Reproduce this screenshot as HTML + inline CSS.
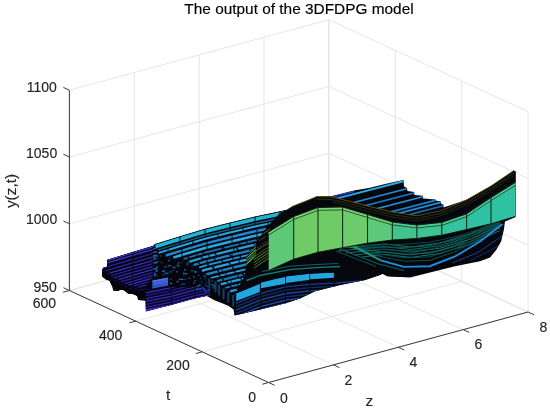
<!DOCTYPE html>
<html><head><meta charset="utf-8"><style>
html,body{margin:0;padding:0;background:#fff;width:550px;height:412px;overflow:hidden}
svg{display:block}
.g{stroke:#e2e2e2;stroke-width:0.9}
.a{stroke:#3a3a3a;stroke-width:1}
text{font-family:"Liberation Sans",Arial,sans-serif;fill:#262626;stroke:#262626;stroke-width:0.15px}
.title{font-size:15.4px;fill:#000;stroke:#000}
.tk{font-size:14px}
.lb{font-size:15.4px}
</style></head><body>
<svg width="550" height="412" viewBox="0 0 550 412">
<g><line x1="268.6" y1="382.5" x2="69.4" y2="290.5" class="g"/><line x1="333.48" y1="364.88" x2="134.28" y2="272.88" class="g"/><line x1="398.35" y1="347.25" x2="199.15" y2="255.25" class="g"/><line x1="463.23" y1="329.62" x2="264.03" y2="237.62" class="g"/><line x1="528.1" y1="312" x2="328.9" y2="220" class="g"/><line x1="268.6" y1="382.5" x2="528.1" y2="312" class="g"/><line x1="202.2" y1="351.83" x2="461.7" y2="281.33" class="g"/><line x1="135.8" y1="321.17" x2="395.3" y2="250.67" class="g"/><line x1="69.4" y1="290.5" x2="328.9" y2="220" class="g"/><line x1="69.4" y1="290.5" x2="69.4" y2="90.2" class="g"/><line x1="134.28" y1="272.88" x2="134.28" y2="72.57" class="g"/><line x1="199.15" y1="255.25" x2="199.15" y2="54.95" class="g"/><line x1="264.03" y1="237.62" x2="264.03" y2="37.32" class="g"/><line x1="328.9" y1="220" x2="328.9" y2="19.7" class="g"/><line x1="69.4" y1="290.5" x2="328.9" y2="220" class="g"/><line x1="69.4" y1="223.73" x2="328.9" y2="153.23" class="g"/><line x1="69.4" y1="156.97" x2="328.9" y2="86.47" class="g"/><line x1="69.4" y1="90.2" x2="328.9" y2="19.7" class="g"/><line x1="528.1" y1="312" x2="528.1" y2="111.7" class="g"/><line x1="461.7" y1="281.33" x2="461.7" y2="81.03" class="g"/><line x1="395.3" y1="250.67" x2="395.3" y2="50.37" class="g"/><line x1="328.9" y1="220" x2="328.9" y2="19.7" class="g"/><line x1="528.1" y1="312" x2="328.9" y2="220" class="g"/><line x1="528.1" y1="245.23" x2="328.9" y2="153.23" class="g"/><line x1="528.1" y1="178.47" x2="328.9" y2="86.47" class="g"/><line x1="528.1" y1="111.7" x2="328.9" y2="19.7" class="g"/></g><g><polygon points="102.2,269.5 104.0,267.3 107.2,266.8 107.4,259.7 153.3,245.8 155.0,244.0 180.0,236.3 205.0,228.8 230.0,222.5 255.0,216.5 280.0,211.3 286.7,209.7 292.1,206.5 310.0,199.4 316.7,196.6 332.0,196.1 354.0,190.4 370.0,187.7 385.0,184.0 403.4,180.0 404.0,186.5 406.7,187.8 407.5,191.0 414.0,192.0 414.5,195.0 422.7,195.8 423.0,198.5 435.4,199.4 435.5,200.5 440.7,201.4 441.0,203.5 443.4,204.7 443.5,207.4 460.0,202.0 466.8,199.5 491.0,186.0 513.8,170.6 515.6,171.4 515.6,217.0 505.0,221.5 503.8,230.0 501.2,241.2 496.2,250.0 490.0,257.5 480.0,261.2 455.0,266.2 430.0,272.5 410.0,277.5 387.5,276.2 382.5,273.8 380.0,275.0 365.0,280.0 340.0,285.0 315.0,291.2 300.0,298.6 285.5,303.2 260.0,309.5 234.5,315.5 233.6,309.5 228.6,306.0 224.0,304.0 219.5,302.3 215.0,300.5 211.4,298.6 206.8,295.9 195.0,298.6 171.4,305.0 145.9,311.4 145.5,300.5 138.2,300.0 137.3,296.1 132.9,294.0 128.0,293.5 124.2,290.3 120.5,289.6 118.3,291.0 113.2,290.5 112.5,286.6 111.0,283.7 109.6,280.8 106.0,279.4 103.5,277.5 102.0,276.0" fill="#06070c" /><clipPath id="c1"><polygon points="102.2,269.5 104.0,267.3 107.2,266.8 107.4,259.7 153.3,245.8 155.0,244.0 180.0,236.3 205.0,228.8 230.0,222.5 255.0,216.5 280.0,211.3 286.7,209.7 292.1,206.5 310.0,199.4 316.7,196.6 332.0,196.1 354.0,190.4 370.0,187.7 385.0,184.0 403.4,180.0 404.0,186.5 406.7,187.8 407.5,191.0 414.0,192.0 414.5,195.0 422.7,195.8 423.0,198.5 435.4,199.4 435.5,200.5 440.7,201.4 441.0,203.5 443.4,204.7 443.5,207.4 460.0,202.0 466.8,199.5 491.0,186.0 513.8,170.6 515.6,171.4 515.6,217.0 505.0,221.5 503.8,230.0 501.2,241.2 496.2,250.0 490.0,257.5 480.0,261.2 455.0,266.2 430.0,272.5 410.0,277.5 387.5,276.2 382.5,273.8 380.0,275.0 365.0,280.0 340.0,285.0 315.0,291.2 300.0,298.6 285.5,303.2 260.0,309.5 234.5,315.5 233.6,309.5 228.6,306.0 224.0,304.0 219.5,302.3 215.0,300.5 211.4,298.6 206.8,295.9 195.0,298.6 171.4,305.0 145.9,311.4 145.5,300.5 138.2,300.0 137.3,296.1 132.9,294.0 128.0,293.5 124.2,290.3 120.5,289.6 118.3,291.0 113.2,290.5 112.5,286.6 111.0,283.7 109.6,280.8 106.0,279.4 103.5,277.5 102.0,276.0"/></clipPath><g clip-path="url(#c1)"><clipPath id="c2"><polygon points="100.0,250.0 156.0,243.0 156.5,280.0 152.4,281.0 146.0,286.0 146.0,315.0 100.0,315.0"/></clipPath><g clip-path="url(#c2)"><polygon points="100.0,250.0 156.0,243.0 156.5,280.0 152.4,281.0 146.0,286.0 146.0,315.0 100.0,315.0" fill="#04040c" /><polygon points="107.4,259.7 130.0,253.0 153.3,246.3 160.0,244.4 160.0,252.4 107.4,267.7" fill="#05040f" /><polyline points="107.4,260.3 130.0,253.6 153.3,246.9 160.0,245.0" fill="none" stroke="#3c38d8" stroke-width="1.3" /><polyline points="107.4,259.7 107.4,267.7" fill="none" stroke="#000" stroke-width="0.8" /><polygon points="104.0,263.2 107.4,262.2 130.0,255.5 153.3,248.8 160.0,246.9 160.0,256.9 104.0,273.2" fill="#05040f" /><polyline points="104.0,263.8 107.4,262.8 130.0,256.1 153.3,249.4 160.0,247.5" fill="none" stroke="#3c38d8" stroke-width="1.3" /><polyline points="104.0,267.4 107.4,266.4 130.0,259.7 153.3,253.0 160.0,251.1" fill="none" stroke="#1c1870" stroke-width="0.8" /><polyline points="104.0,263.2 104.0,273.2" fill="none" stroke="#000" stroke-width="0.8" /><polygon points="102.0,267.8 107.4,266.2 130.0,259.5 153.3,252.8 160.0,250.9 160.0,261.4 102.0,278.3" fill="#05040f" /><polyline points="102.0,268.4 107.4,266.8 130.0,260.1 153.3,253.4 160.0,251.5" fill="none" stroke="#2a22a0" stroke-width="1.1" /><polyline points="102.0,272.0 107.4,270.4 130.0,263.7 153.3,257.0 160.0,255.1" fill="none" stroke="#1c1870" stroke-width="0.8" /><polyline points="102.0,267.8 102.0,278.3" fill="none" stroke="#000" stroke-width="0.8" /><polygon points="106.0,270.1 107.4,269.7 130.0,263.0 153.3,256.3 160.0,254.4 160.0,264.4 106.0,280.1" fill="#05040f" /><polyline points="106.0,270.7 107.4,270.3 130.0,263.6 153.3,256.9 160.0,255.0" fill="none" stroke="#2e28b0" stroke-width="1.1" /><polyline points="106.0,274.3 107.4,273.9 130.0,267.2 153.3,260.5 160.0,258.6" fill="none" stroke="#1c1870" stroke-width="0.8" /><polyline points="106.0,270.1 106.0,280.1" fill="none" stroke="#000" stroke-width="0.8" /><polygon points="109.6,272.5 130.0,266.5 153.3,259.8 160.0,257.9 160.0,267.9 109.6,282.5" fill="#05040f" /><polyline points="109.6,273.1 130.0,267.1 153.3,260.4 160.0,258.5" fill="none" stroke="#3530c4" stroke-width="1.1" /><polyline points="109.6,276.7 130.0,270.7 153.3,264.0 160.0,262.1" fill="none" stroke="#1c1870" stroke-width="0.8" /><polyline points="109.6,272.5 109.6,282.5" fill="none" stroke="#000" stroke-width="0.8" /><polygon points="111.0,275.1 130.0,269.5 153.3,262.8 160.0,260.9 160.0,271.9 111.0,286.1" fill="#05040f" /><polyline points="111.0,275.7 130.0,270.1 153.3,263.4 160.0,261.5" fill="none" stroke="#2a22a0" stroke-width="1.1" /><polyline points="111.0,279.3 130.0,273.7 153.3,267.0 160.0,265.1" fill="none" stroke="#1c1870" stroke-width="0.8" /><polyline points="111.0,275.1 111.0,286.1" fill="none" stroke="#000" stroke-width="0.8" /><polygon points="113.2,277.5 130.0,272.5 153.3,265.8 160.0,263.9 160.0,274.4 113.2,288.0" fill="#05040f" /><polyline points="113.2,278.1 130.0,273.1 153.3,266.4 160.0,264.5" fill="none" stroke="#2e28b0" stroke-width="1.1" /><polyline points="113.2,281.7 130.0,276.7 153.3,270.0 160.0,268.1" fill="none" stroke="#1c1870" stroke-width="0.8" /><polyline points="113.2,277.5 113.2,288.0" fill="none" stroke="#000" stroke-width="0.8" /><polygon points="118.3,279.0 130.0,275.5 153.3,268.8 160.0,266.9 160.0,275.9 118.3,288.0" fill="#05040f" /><polyline points="118.3,279.6 130.0,276.1 153.3,269.4 160.0,267.5" fill="none" stroke="#3530c4" stroke-width="1.1" /><polyline points="118.3,283.2 130.0,279.7 153.3,273.0 160.0,271.1" fill="none" stroke="#1c1870" stroke-width="0.8" /><polyline points="118.3,279.0 118.3,288.0" fill="none" stroke="#000" stroke-width="0.8" /><polygon points="120.5,281.3 130.0,278.5 153.3,271.8 160.0,269.9 160.0,278.9 120.5,290.3" fill="#05040f" /><polyline points="120.5,281.9 130.0,279.1 153.3,272.4 160.0,270.5" fill="none" stroke="#2a22a0" stroke-width="1.1" /><polyline points="120.5,285.5 130.0,282.7 153.3,276.0 160.0,274.1" fill="none" stroke="#1c1870" stroke-width="0.8" /><polyline points="120.5,281.3 120.5,290.3" fill="none" stroke="#000" stroke-width="0.8" /><polygon points="124.2,283.2 130.0,281.5 153.3,274.8 160.0,272.9 160.0,281.9 124.2,292.2" fill="#05040f" /><polyline points="124.2,283.8 130.0,282.1 153.3,275.4 160.0,273.5" fill="none" stroke="#2e28b0" stroke-width="1.1" /><polyline points="124.2,287.4 130.0,285.7 153.3,279.0 160.0,277.1" fill="none" stroke="#1c1870" stroke-width="0.8" /><polyline points="124.2,283.2 124.2,292.2" fill="none" stroke="#000" stroke-width="0.8" /><polygon points="128.0,284.6 130.0,284.0 153.3,277.3 160.0,275.4 160.0,284.9 128.0,294.1" fill="#05040f" /><polyline points="128.0,285.2 130.0,284.6 153.3,277.9 160.0,276.0" fill="none" stroke="#3530c4" stroke-width="1.1" /><polyline points="128.0,288.8 130.0,288.2 153.3,281.5 160.0,279.6" fill="none" stroke="#1c1870" stroke-width="0.8" /><polyline points="128.0,284.6 128.0,294.1" fill="none" stroke="#000" stroke-width="0.8" /><polygon points="132.9,285.7 153.3,279.8 160.0,277.9 160.0,287.9 132.9,295.7" fill="#05040f" /><polyline points="132.9,286.3 153.3,280.4 160.0,278.5" fill="none" stroke="#2a22a0" stroke-width="1.1" /><polyline points="132.9,289.9 153.3,284.0 160.0,282.1" fill="none" stroke="#1c1870" stroke-width="0.8" /><polyline points="132.9,285.7 132.9,295.7" fill="none" stroke="#000" stroke-width="0.8" /><polygon points="137.3,286.9 153.3,282.3 160.0,280.4 160.0,290.4 137.3,296.9" fill="#05040f" /><polyline points="137.3,287.5 153.3,282.9 160.0,281.0" fill="none" stroke="#2e28b0" stroke-width="1.1" /><polyline points="137.3,291.1 153.3,286.5 160.0,284.6" fill="none" stroke="#1c1870" stroke-width="0.8" /><polyline points="137.3,286.9 137.3,296.9" fill="none" stroke="#000" stroke-width="0.8" /><polyline points="132.8,252.0 132.8,300.0" fill="none" stroke="#06070c" stroke-width="0.8" /></g></g><clipPath id="c3"><polygon points="102.2,269.5 104.0,267.3 107.2,266.8 107.4,259.7 153.3,245.8 155.0,244.0 180.0,236.3 205.0,228.8 230.0,222.5 255.0,216.5 280.0,211.3 286.7,209.7 292.1,206.5 310.0,199.4 316.7,196.6 332.0,196.1 354.0,190.4 370.0,187.7 385.0,184.0 403.4,180.0 404.0,186.5 406.7,187.8 407.5,191.0 414.0,192.0 414.5,195.0 422.7,195.8 423.0,198.5 435.4,199.4 435.5,200.5 440.7,201.4 441.0,203.5 443.4,204.7 443.5,207.4 460.0,202.0 466.8,199.5 491.0,186.0 513.8,170.6 515.6,171.4 515.6,217.0 505.0,221.5 503.8,230.0 501.2,241.2 496.2,250.0 490.0,257.5 480.0,261.2 455.0,266.2 430.0,272.5 410.0,277.5 387.5,276.2 382.5,273.8 380.0,275.0 365.0,280.0 340.0,285.0 315.0,291.2 300.0,298.6 285.5,303.2 260.0,309.5 234.5,315.5 233.6,309.5 228.6,306.0 224.0,304.0 219.5,302.3 215.0,300.5 211.4,298.6 206.8,295.9 195.0,298.6 171.4,305.0 145.9,311.4 145.5,300.5 138.2,300.0 137.3,296.1 132.9,294.0 128.0,293.5 124.2,290.3 120.5,289.6 118.3,291.0 113.2,290.5 112.5,286.6 111.0,283.7 109.6,280.8 106.0,279.4 103.5,277.5 102.0,276.0"/></clipPath><g clip-path="url(#c3)"><clipPath id="c4"><polygon points="146.0,311.4 146.0,285.6 152.4,277.0 152.4,247.0 158.0,246.0 170.0,250.0 190.0,260.0 201.0,269.0 207.5,286.0 212.0,295.0 207.5,296.0 195.0,298.6 171.4,305.0"/></clipPath><g clip-path="url(#c4)"><polygon points="146.0,311.4 146.0,285.6 152.4,277.0 152.4,247.0 158.0,246.0 170.0,250.0 190.0,260.0 201.0,269.0 207.5,286.0 212.0,295.0 207.5,296.0 195.0,298.6 171.4,305.0" fill="#05060c" /><clipPath id="c5"><polygon points="145.9,288.0 195.0,286.5 212.0,289.0 212.0,295.0 207.5,296.0 195.0,298.6 171.4,305.0 145.9,311.7"/></clipPath><g clip-path="url(#c5)"><polygon points="145.9,288.0 195.0,286.5 212.0,289.0 212.0,295.0 207.5,296.0 195.0,298.6 171.4,305.0 145.9,311.7" fill="#07061c" /><polyline points="140.0,294.0 171.4,287.6 195.0,281.2 214.0,277.0" fill="none" stroke="#3a28c0" stroke-width="1.2" /><polyline points="140.0,296.9 171.4,290.5 195.0,284.1 214.0,279.9" fill="none" stroke="#261c8c" stroke-width="1.2" /><polyline points="140.0,299.8 171.4,293.4 195.0,287.0 214.0,282.8" fill="none" stroke="#3224ac" stroke-width="1.2" /><polyline points="140.0,302.7 171.4,296.3 195.0,289.9 214.0,285.7" fill="none" stroke="#3a28c0" stroke-width="1.2" /><polyline points="140.0,305.6 171.4,299.2 195.0,292.8 214.0,288.6" fill="none" stroke="#261c8c" stroke-width="1.2" /><polyline points="140.0,308.5 171.4,302.1 195.0,295.7 214.0,291.5" fill="none" stroke="#3224ac" stroke-width="1.2" /><polyline points="140.0,311.4 171.4,305.0 195.0,298.6 214.0,294.4" fill="none" stroke="#4a32e0" stroke-width="1.6" /><polyline points="140.0,314.3 171.4,307.9 195.0,301.5 214.0,297.3" fill="none" stroke="#3a28c8" stroke-width="1.6" /><polyline points="140.0,317.2 171.4,310.8 195.0,304.4 214.0,300.2" fill="none" stroke="#4a32e0" stroke-width="1.6" /><polyline points="140.0,320.1 171.4,313.7 195.0,307.3 214.0,303.1" fill="none" stroke="#3a28c8" stroke-width="1.6" /></g><polygon points="152.4,280.5 168.1,277.5 168.1,285.5 152.4,288.5" fill="#3d5cd8" /><polyline points="152.4,281.3 168.1,278.3" fill="none" stroke="#5a80f4" stroke-width="1.0" /><polyline points="152.4,286.7 168.1,283.7" fill="none" stroke="#2c44b8" stroke-width="0.8" /><polyline points="152.8,249.0 157.2,248.0" fill="none" stroke="#1a70b8" stroke-width="1.1" /><polyline points="152.8,252.5 157.2,251.5" fill="none" stroke="#1f80c8" stroke-width="1.1" /><polyline points="152.8,256.0 157.2,255.0" fill="none" stroke="#1f80c8" stroke-width="1.1" /><polyline points="152.8,259.5 157.2,258.5" fill="none" stroke="#1a70b8" stroke-width="1.1" /><polyline points="152.8,263.0 157.2,262.0" fill="none" stroke="#1a5aa0" stroke-width="1.1" /><polygon points="153.0,268.5 155.2,268.1 155.2,269.6 153.0,270.0" fill="#2a4ab8" /><polygon points="155.5,270.5 157.7,270.1 157.7,271.6 155.5,272.0" fill="#1a70c0" /><polygon points="153.5,272.8 155.7,272.4 155.7,273.9 153.5,274.3" fill="#2a4ab8" /><polygon points="156.0,266.5 158.2,266.1 158.2,267.6 156.0,268.0" fill="#2a4ab8" /><polygon points="154.0,275.0 156.2,274.6 156.2,276.1 154.0,276.5" fill="#2a58c8" /><polyline points="171.4,286.0 171.4,306.0" fill="none" stroke="#06070c" stroke-width="0.8" /><polyline points="195.0,280.0 195.0,299.0" fill="none" stroke="#06070c" stroke-width="0.8" /></g></g><clipPath id="c6"><polygon points="102.2,269.5 104.0,267.3 107.2,266.8 107.4,259.7 153.3,245.8 155.0,244.0 180.0,236.3 205.0,228.8 230.0,222.5 255.0,216.5 280.0,211.3 286.7,209.7 292.1,206.5 310.0,199.4 316.7,196.6 332.0,196.1 354.0,190.4 370.0,187.7 385.0,184.0 403.4,180.0 404.0,186.5 406.7,187.8 407.5,191.0 414.0,192.0 414.5,195.0 422.7,195.8 423.0,198.5 435.4,199.4 435.5,200.5 440.7,201.4 441.0,203.5 443.4,204.7 443.5,207.4 460.0,202.0 466.8,199.5 491.0,186.0 513.8,170.6 515.6,171.4 515.6,217.0 505.0,221.5 503.8,230.0 501.2,241.2 496.2,250.0 490.0,257.5 480.0,261.2 455.0,266.2 430.0,272.5 410.0,277.5 387.5,276.2 382.5,273.8 380.0,275.0 365.0,280.0 340.0,285.0 315.0,291.2 300.0,298.6 285.5,303.2 260.0,309.5 234.5,315.5 233.6,309.5 228.6,306.0 224.0,304.0 219.5,302.3 215.0,300.5 211.4,298.6 206.8,295.9 195.0,298.6 171.4,305.0 145.9,311.4 145.5,300.5 138.2,300.0 137.3,296.1 132.9,294.0 128.0,293.5 124.2,290.3 120.5,289.6 118.3,291.0 113.2,290.5 112.5,286.6 111.0,283.7 109.6,280.8 106.0,279.4 103.5,277.5 102.0,276.0"/></clipPath><g clip-path="url(#c6)"><clipPath id="c7"><polygon points="155.0,244.0 180.0,236.3 205.0,228.8 230.0,222.5 255.0,216.5 280.0,211.3 287.0,209.7 280.0,213.0 268.0,226.0 259.8,237.0 253.0,249.0 247.0,256.0 246.0,266.0 244.5,276.0 236.0,293.0 234.0,309.0 228.0,305.0 222.0,302.0 216.0,299.0 211.0,297.0 208.0,287.0 201.0,269.0 190.0,266.0 170.0,262.0 158.0,258.0"/></clipPath><g clip-path="url(#c7)"><polygon points="155.0,244.0 180.0,236.3 205.0,228.8 230.0,222.5 255.0,216.5 280.0,211.3 287.0,209.7 280.0,213.0 268.0,226.0 259.8,237.0 253.0,249.0 247.0,256.0 246.0,266.0 244.5,276.0 236.0,293.0 234.0,309.0 228.0,305.0 222.0,302.0 216.0,299.0 211.0,297.0 208.0,287.0 201.0,269.0 190.0,266.0 170.0,262.0 158.0,258.0" fill="#06070c" /><polyline points="150.0,248.1 155.0,246.6 180.0,238.9 205.0,231.4 230.0,225.1 255.0,219.1 280.0,213.9 300.0,209.6" fill="none" stroke="#20b2d6" stroke-width="4.0" /><polyline points="150.0,245.9 155.0,244.4 180.0,236.7 205.0,229.2 230.0,222.9 255.0,216.9 280.0,211.7 300.0,207.4" fill="none" stroke="#0a1a22" stroke-width="0.8" /><polyline points="158.0,250.0 180.0,243.2 205.0,235.7 230.0,229.4 255.0,223.4 280.0,218.2 300.0,213.9" fill="none" stroke="#126a96" stroke-width="1.2" /><polyline points="158.7,252.9 180.0,246.3 205.0,238.8 230.0,232.5 255.0,226.5 280.0,221.3 300.0,217.0" fill="none" stroke="#2aa2e2" stroke-width="2.0" /><polyline points="168.0,248.5 168.0,251.5" fill="none" stroke="#06070c" stroke-width="0.9" /><polyline points="193.0,240.9 193.0,243.9" fill="none" stroke="#06070c" stroke-width="0.9" /><polyline points="218.0,234.0 218.0,237.0" fill="none" stroke="#06070c" stroke-width="0.9" /><polyline points="243.0,227.9 243.0,230.9" fill="none" stroke="#06070c" stroke-width="0.9" /><polyline points="268.0,222.3 268.0,225.3" fill="none" stroke="#06070c" stroke-width="0.9" /><polyline points="293.0,217.0 293.0,220.0" fill="none" stroke="#06070c" stroke-width="0.9" /><polyline points="165.8,255.5 180.0,251.1 205.0,243.6 230.0,237.3 255.0,231.3 280.0,226.1 300.0,221.8" fill="none" stroke="#1e88cc" stroke-width="2.5" /><polyline points="182.0,249.0 182.0,252.0" fill="none" stroke="#06070c" stroke-width="0.9" /><polyline points="207.0,241.6 207.0,244.6" fill="none" stroke="#06070c" stroke-width="0.9" /><polyline points="232.0,235.3 232.0,238.3" fill="none" stroke="#06070c" stroke-width="0.9" /><polyline points="257.0,229.4 257.0,232.4" fill="none" stroke="#06070c" stroke-width="0.9" /><polyline points="282.0,224.2 282.0,227.2" fill="none" stroke="#06070c" stroke-width="0.9" /><polyline points="173.3,257.6 180.0,255.5 205.0,248.0 230.0,241.7 255.0,235.7 280.0,230.5 300.0,226.2" fill="none" stroke="#28a8e4" stroke-width="2.5" /><polyline points="182.0,253.4 182.0,256.4" fill="none" stroke="#06070c" stroke-width="0.9" /><polyline points="207.0,246.0 207.0,249.0" fill="none" stroke="#06070c" stroke-width="0.9" /><polyline points="232.0,239.7 232.0,242.7" fill="none" stroke="#06070c" stroke-width="0.9" /><polyline points="257.0,233.8 257.0,236.8" fill="none" stroke="#06070c" stroke-width="0.9" /><polyline points="282.0,228.6 282.0,231.6" fill="none" stroke="#06070c" stroke-width="0.9" /><polyline points="183.6,259.0 205.0,252.6 230.0,246.3 255.0,240.3 280.0,235.1 300.0,230.8" fill="none" stroke="#1a74b4" stroke-width="1.8" /><polyline points="187.9,256.3 189.8,259.1" fill="none" stroke="#06070c" stroke-width="1.3" /><polyline points="202.5,252.0 204.7,254.8" fill="none" stroke="#06070c" stroke-width="1.3" /><polyline points="222.3,246.8 224.9,249.6" fill="none" stroke="#06070c" stroke-width="1.3" /><polyline points="238.5,242.9 241.1,245.7" fill="none" stroke="#06070c" stroke-width="1.3" /><polyline points="256.2,238.6 258.2,241.4" fill="none" stroke="#06070c" stroke-width="1.3" /><polyline points="272.3,235.3 273.6,238.1" fill="none" stroke="#06070c" stroke-width="1.3" /><polyline points="287.7,232.0 290.5,234.8" fill="none" stroke="#06070c" stroke-width="1.3" /><polyline points="197.0,253.5 197.0,256.5" fill="none" stroke="#06070c" stroke-width="0.9" /><polyline points="222.0,246.8 222.0,249.8" fill="none" stroke="#06070c" stroke-width="0.9" /><polyline points="247.0,240.7 247.0,243.7" fill="none" stroke="#06070c" stroke-width="0.9" /><polyline points="272.0,235.3 272.0,238.3" fill="none" stroke="#06070c" stroke-width="0.9" /><polyline points="297.0,229.9 297.0,232.9" fill="none" stroke="#06070c" stroke-width="0.9" /><polyline points="189.0,261.8 205.0,257.0 230.0,250.7 255.0,244.7 280.0,239.5 300.0,235.2" fill="none" stroke="#24a0e0" stroke-width="2.3" /><polyline points="200.9,256.8 203.2,259.6" fill="none" stroke="#06070c" stroke-width="1.3" /><polyline points="214.6,253.2 217.2,256.0" fill="none" stroke="#06070c" stroke-width="1.3" /><polyline points="236.2,247.8 239.0,250.6" fill="none" stroke="#06070c" stroke-width="1.3" /><polyline points="253.9,243.6 256.3,246.4" fill="none" stroke="#06070c" stroke-width="1.3" /><polyline points="268.0,240.6 270.6,243.4" fill="none" stroke="#06070c" stroke-width="1.3" /><polyline points="285.7,236.9 287.2,239.7" fill="none" stroke="#06070c" stroke-width="1.3" /><polygon points="186.6,262.3 189.0,261.5 189.0,272.8 186.6,273.3" fill="#0f3e66" /><polyline points="189.0,261.3 189.0,275.8" fill="none" stroke="#06070c" stroke-width="0.9" /><polyline points="209.0,254.5 209.0,257.5" fill="none" stroke="#06070c" stroke-width="0.9" /><polyline points="234.0,248.2 234.0,251.2" fill="none" stroke="#06070c" stroke-width="0.9" /><polyline points="259.0,242.4 259.0,245.4" fill="none" stroke="#06070c" stroke-width="0.9" /><polyline points="284.0,237.1 284.0,240.1" fill="none" stroke="#06070c" stroke-width="0.9" /><polyline points="193.4,265.2 205.0,261.7 230.0,255.4 255.0,249.4 280.0,244.2 300.0,239.9" fill="none" stroke="#1c80c4" stroke-width="2.3" /><polyline points="198.1,262.4 200.7,265.2" fill="none" stroke="#06070c" stroke-width="1.3" /><polyline points="214.2,258.0 215.4,260.8" fill="none" stroke="#06070c" stroke-width="1.3" /><polyline points="229.2,254.3 231.7,257.1" fill="none" stroke="#06070c" stroke-width="1.3" /><polyline points="249.9,249.3 250.8,252.1" fill="none" stroke="#06070c" stroke-width="1.3" /><polyline points="268.0,245.3 268.9,248.1" fill="none" stroke="#06070c" stroke-width="1.3" /><polyline points="287.2,241.3 288.7,244.1" fill="none" stroke="#06070c" stroke-width="1.3" /><polygon points="191.0,265.7 193.4,264.9 193.4,276.2 191.0,276.7" fill="#0f3e66" /><polyline points="193.4,264.7 193.4,279.2" fill="none" stroke="#06070c" stroke-width="0.9" /><polyline points="207.0,259.7 207.0,262.7" fill="none" stroke="#06070c" stroke-width="0.9" /><polyline points="232.0,253.5 232.0,256.5" fill="none" stroke="#06070c" stroke-width="0.9" /><polyline points="257.0,247.5 257.0,250.5" fill="none" stroke="#06070c" stroke-width="0.9" /><polyline points="282.0,242.3 282.0,245.3" fill="none" stroke="#06070c" stroke-width="0.9" /><polyline points="198.8,267.6 205.0,265.7 230.0,259.4 255.0,253.4 280.0,248.2 300.0,243.9" fill="none" stroke="#2296d8" stroke-width="1.8" /><polyline points="206.8,263.9 209.8,266.7" fill="none" stroke="#06070c" stroke-width="1.3" /><polyline points="221.9,260.1 222.9,262.9" fill="none" stroke="#06070c" stroke-width="1.3" /><polyline points="239.9,255.6 240.8,258.4" fill="none" stroke="#06070c" stroke-width="1.3" /><polyline points="253.9,252.3 255.6,255.1" fill="none" stroke="#06070c" stroke-width="1.3" /><polyline points="272.0,248.5 273.1,251.3" fill="none" stroke="#06070c" stroke-width="1.3" /><polyline points="284.4,245.9 287.1,248.7" fill="none" stroke="#06070c" stroke-width="1.3" /><polygon points="196.4,268.1 198.8,267.3 198.8,278.6 196.4,279.1" fill="#0f3e66" /><polyline points="198.8,267.1 198.8,281.6" fill="none" stroke="#06070c" stroke-width="0.9" /><polyline points="208.0,263.5 208.0,266.5" fill="none" stroke="#06070c" stroke-width="0.9" /><polyline points="233.0,257.2 233.0,260.2" fill="none" stroke="#06070c" stroke-width="0.9" /><polyline points="258.0,251.3 258.0,254.3" fill="none" stroke="#06070c" stroke-width="0.9" /><polyline points="283.0,246.1 283.0,249.1" fill="none" stroke="#06070c" stroke-width="0.9" /><polyline points="201.2,271.1 205.0,269.9 230.0,263.6 255.0,257.6 280.0,252.4 300.0,248.1" fill="none" stroke="#2aa2e2" stroke-width="2.3" /><polyline points="212.3,266.7 214.0,269.5" fill="none" stroke="#06070c" stroke-width="1.3" /><polyline points="228.9,262.5 230.9,265.3" fill="none" stroke="#06070c" stroke-width="1.3" /><polyline points="247.4,258.1 249.5,260.9" fill="none" stroke="#06070c" stroke-width="1.3" /><polyline points="265.0,254.2 267.1,257.0" fill="none" stroke="#06070c" stroke-width="1.3" /><polyline points="286.4,249.7 288.3,252.5" fill="none" stroke="#06070c" stroke-width="1.3" /><polygon points="198.8,271.6 201.2,270.8 201.2,282.1 198.8,282.6" fill="#0f3e66" /><polyline points="201.2,270.6 201.2,285.1" fill="none" stroke="#06070c" stroke-width="0.9" /><polyline points="214.0,266.2 214.0,269.2" fill="none" stroke="#06070c" stroke-width="0.9" /><polyline points="239.0,260.0 239.0,263.0" fill="none" stroke="#06070c" stroke-width="0.9" /><polyline points="264.0,254.3 264.0,257.3" fill="none" stroke="#06070c" stroke-width="0.9" /><polyline points="289.0,249.0 289.0,252.0" fill="none" stroke="#06070c" stroke-width="0.9" /><polyline points="206.1,274.3 230.0,268.3 255.0,262.3 280.0,257.1 300.0,252.8" fill="none" stroke="#1e88cc" stroke-width="2.3" /><polyline points="217.6,270.0 219.4,272.8" fill="none" stroke="#06070c" stroke-width="1.3" /><polyline points="232.2,266.4 233.7,269.2" fill="none" stroke="#06070c" stroke-width="1.3" /><polyline points="247.6,262.7 250.1,265.5" fill="none" stroke="#06070c" stroke-width="1.3" /><polyline points="269.5,257.9 270.9,260.7" fill="none" stroke="#06070c" stroke-width="1.3" /><polyline points="285.2,254.6 287.3,257.4" fill="none" stroke="#06070c" stroke-width="1.3" /><polygon points="203.7,274.8 206.1,274.0 206.1,285.3 203.7,285.8" fill="#0f3e66" /><polyline points="206.1,273.8 206.1,288.3" fill="none" stroke="#06070c" stroke-width="0.9" /><polyline points="222.0,268.8 222.0,271.8" fill="none" stroke="#06070c" stroke-width="0.9" /><polyline points="247.0,262.7 247.0,265.7" fill="none" stroke="#06070c" stroke-width="0.9" /><polyline points="272.0,257.3 272.0,260.3" fill="none" stroke="#06070c" stroke-width="0.9" /><polyline points="297.0,251.9 297.0,254.9" fill="none" stroke="#06070c" stroke-width="0.9" /><polyline points="210.7,278.0 230.0,273.2 255.0,267.2 280.0,262.0 300.0,257.7" fill="none" stroke="#28a8e4" stroke-width="1.8" /><polyline points="218.5,274.7 220.8,277.5" fill="none" stroke="#06070c" stroke-width="1.3" /><polyline points="234.0,270.8 236.3,273.6" fill="none" stroke="#06070c" stroke-width="1.3" /><polyline points="253.4,266.1 254.2,268.9" fill="none" stroke="#06070c" stroke-width="1.3" /><polyline points="266.0,263.5 268.3,266.3" fill="none" stroke="#06070c" stroke-width="1.3" /><polyline points="287.6,258.9 289.0,261.7" fill="none" stroke="#06070c" stroke-width="1.3" /><polygon points="208.3,278.5 210.7,277.7 210.7,289.0 208.3,289.5" fill="#0f3e66" /><polyline points="210.7,277.5 210.7,292.0" fill="none" stroke="#06070c" stroke-width="0.9" /><polyline points="226.0,272.7 226.0,275.7" fill="none" stroke="#06070c" stroke-width="0.9" /><polyline points="251.0,266.6 251.0,269.6" fill="none" stroke="#06070c" stroke-width="0.9" /><polyline points="276.0,261.3 276.0,264.3" fill="none" stroke="#06070c" stroke-width="0.9" /><polyline points="217.0,281.1 230.0,277.8 255.0,271.8 280.0,266.6 300.0,262.3" fill="none" stroke="#1a74b4" stroke-width="2.3" /><polyline points="222.4,278.3 223.6,281.1" fill="none" stroke="#06070c" stroke-width="1.3" /><polyline points="242.0,273.5 244.6,276.3" fill="none" stroke="#06070c" stroke-width="1.3" /><polyline points="256.6,270.1 259.1,272.9" fill="none" stroke="#06070c" stroke-width="1.3" /><polyline points="269.6,267.4 272.2,270.2" fill="none" stroke="#06070c" stroke-width="1.3" /><polyline points="291.4,262.8 293.7,265.6" fill="none" stroke="#06070c" stroke-width="1.3" /><polygon points="214.6,281.6 217.0,280.8 217.0,292.1 214.6,292.6" fill="#0f3e66" /><polyline points="217.0,280.6 217.0,295.1" fill="none" stroke="#06070c" stroke-width="0.9" /><polyline points="238.0,274.4 238.0,277.4" fill="none" stroke="#06070c" stroke-width="0.9" /><polyline points="263.0,268.6 263.0,271.6" fill="none" stroke="#06070c" stroke-width="0.9" /><polyline points="288.0,263.4 288.0,266.4" fill="none" stroke="#06070c" stroke-width="0.9" /><polyline points="220.6,284.3 230.0,281.9 255.0,275.9 280.0,270.7 300.0,266.4" fill="none" stroke="#24a0e0" stroke-width="2.3" /><polyline points="226.4,281.4 228.9,284.2" fill="none" stroke="#06070c" stroke-width="1.3" /><polyline points="240.8,277.9 242.0,280.7" fill="none" stroke="#06070c" stroke-width="1.3" /><polyline points="257.1,274.1 259.4,276.9" fill="none" stroke="#06070c" stroke-width="1.3" /><polyline points="270.1,271.4 271.6,274.2" fill="none" stroke="#06070c" stroke-width="1.3" /><polyline points="285.5,268.1 288.1,270.9" fill="none" stroke="#06070c" stroke-width="1.3" /><polygon points="218.2,284.8 220.6,284.0 220.6,295.3 218.2,295.8" fill="#0f3e66" /><polyline points="220.6,283.8 220.6,298.3" fill="none" stroke="#06070c" stroke-width="0.9" /><polyline points="231.0,280.2 231.0,283.2" fill="none" stroke="#06070c" stroke-width="0.9" /><polyline points="256.0,274.2 256.0,277.2" fill="none" stroke="#06070c" stroke-width="0.9" /><polyline points="281.0,269.0 281.0,272.0" fill="none" stroke="#06070c" stroke-width="0.9" /><polyline points="225.0,288.0 230.0,286.7 255.0,280.7 280.0,275.5 300.0,271.2" fill="none" stroke="#1c80c4" stroke-width="1.8" /><polyline points="229.6,285.4 232.1,288.2" fill="none" stroke="#06070c" stroke-width="1.3" /><polyline points="243.8,282.0 245.9,284.8" fill="none" stroke="#06070c" stroke-width="1.3" /><polyline points="258.5,278.6 261.0,281.4" fill="none" stroke="#06070c" stroke-width="1.3" /><polyline points="270.9,276.0 273.8,278.8" fill="none" stroke="#06070c" stroke-width="1.3" /><polyline points="286.0,272.8 288.6,275.6" fill="none" stroke="#06070c" stroke-width="1.3" /><polygon points="222.6,288.5 225.0,287.7 225.0,299.0 222.6,299.5" fill="#0f3e66" /><polyline points="225.0,287.5 225.0,302.0" fill="none" stroke="#06070c" stroke-width="0.9" /><polyline points="238.0,283.3 238.0,286.3" fill="none" stroke="#06070c" stroke-width="0.9" /><polyline points="263.0,277.6 263.0,280.6" fill="none" stroke="#06070c" stroke-width="0.9" /><polyline points="288.0,272.3 288.0,275.3" fill="none" stroke="#06070c" stroke-width="0.9" /><polyline points="229.7,291.4 230.0,291.4 255.0,285.4 280.0,280.2 300.0,275.9" fill="none" stroke="#2296d8" stroke-width="2.3" /><polyline points="236.5,288.4 239.1,291.2" fill="none" stroke="#06070c" stroke-width="1.3" /><polyline points="249.3,285.3 251.5,288.1" fill="none" stroke="#06070c" stroke-width="1.3" /><polyline points="267.2,281.4 268.9,284.2" fill="none" stroke="#06070c" stroke-width="1.3" /><polyline points="284.4,277.8 287.1,280.6" fill="none" stroke="#06070c" stroke-width="1.3" /><polygon points="227.3,291.9 229.7,291.1 229.7,302.4 227.3,302.9" fill="#0f3e66" /><polyline points="229.7,290.9 229.7,305.4" fill="none" stroke="#06070c" stroke-width="0.9" /><polyline points="248.0,285.6 248.0,288.6" fill="none" stroke="#06070c" stroke-width="0.9" /><polyline points="273.0,280.1 273.0,283.1" fill="none" stroke="#06070c" stroke-width="0.9" /><polyline points="298.0,274.8 298.0,277.8" fill="none" stroke="#06070c" stroke-width="0.9" /><polyline points="234.6,294.9 255.0,290.0 280.0,284.8 300.0,280.5" fill="none" stroke="#2aa2e2" stroke-width="2.3" /><polyline points="241.0,292.0 243.0,294.8" fill="none" stroke="#06070c" stroke-width="1.3" /><polyline points="253.3,289.0 255.0,291.8" fill="none" stroke="#06070c" stroke-width="1.3" /><polyline points="267.3,286.0 269.2,288.8" fill="none" stroke="#06070c" stroke-width="1.3" /><polyline points="287.6,281.7 289.8,284.5" fill="none" stroke="#06070c" stroke-width="1.3" /><polygon points="232.2,295.4 234.6,294.6 234.6,305.9 232.2,306.4" fill="#0f3e66" /><polyline points="234.6,294.4 234.6,308.9" fill="none" stroke="#06070c" stroke-width="0.9" /><polyline points="247.0,290.4 247.0,293.4" fill="none" stroke="#06070c" stroke-width="0.9" /><polyline points="272.0,284.9 272.0,287.9" fill="none" stroke="#06070c" stroke-width="0.9" /><polyline points="297.0,279.6 297.0,282.6" fill="none" stroke="#06070c" stroke-width="0.9" /><polyline points="180.0,236.3 180.0,243.8" fill="none" stroke="#06070c" stroke-width="0.9" /><polyline points="205.0,228.8 205.0,236.3" fill="none" stroke="#06070c" stroke-width="0.9" /><polyline points="230.0,222.5 230.0,230.0" fill="none" stroke="#06070c" stroke-width="0.9" /><polyline points="255.0,216.5 255.0,224.0" fill="none" stroke="#06070c" stroke-width="0.9" /><polyline points="280.0,211.3 280.0,218.8" fill="none" stroke="#06070c" stroke-width="0.9" /></g></g><clipPath id="c8"><polygon points="102.2,269.5 104.0,267.3 107.2,266.8 107.4,259.7 153.3,245.8 155.0,244.0 180.0,236.3 205.0,228.8 230.0,222.5 255.0,216.5 280.0,211.3 286.7,209.7 292.1,206.5 310.0,199.4 316.7,196.6 332.0,196.1 354.0,190.4 370.0,187.7 385.0,184.0 403.4,180.0 404.0,186.5 406.7,187.8 407.5,191.0 414.0,192.0 414.5,195.0 422.7,195.8 423.0,198.5 435.4,199.4 435.5,200.5 440.7,201.4 441.0,203.5 443.4,204.7 443.5,207.4 460.0,202.0 466.8,199.5 491.0,186.0 513.8,170.6 515.6,171.4 515.6,217.0 505.0,221.5 503.8,230.0 501.2,241.2 496.2,250.0 490.0,257.5 480.0,261.2 455.0,266.2 430.0,272.5 410.0,277.5 387.5,276.2 382.5,273.8 380.0,275.0 365.0,280.0 340.0,285.0 315.0,291.2 300.0,298.6 285.5,303.2 260.0,309.5 234.5,315.5 233.6,309.5 228.6,306.0 224.0,304.0 219.5,302.3 215.0,300.5 211.4,298.6 206.8,295.9 195.0,298.6 171.4,305.0 145.9,311.4 145.5,300.5 138.2,300.0 137.3,296.1 132.9,294.0 128.0,293.5 124.2,290.3 120.5,289.6 118.3,291.0 113.2,290.5 112.5,286.6 111.0,283.7 109.6,280.8 106.0,279.4 103.5,277.5 102.0,276.0"/></clipPath><g clip-path="url(#c8)"><polygon points="155.0,268.1 157.2,268.1 157.2,269.3 155.0,269.3" fill="#1a80c8" /><polygon points="206.4,285.8 209.0,285.8 207.6,287.0 206.4,287.0" fill="#1a4a90" /><polygon points="196.0,288.6 198.4,288.6 198.4,289.8 196.0,289.8" fill="#1a6ab8" /><polygon points="156.1,269.2 157.3,269.2 157.9,270.4 156.1,270.4" fill="#1a4a90" /><polygon points="194.1,271.1 195.8,271.1 196.6,272.3 194.1,272.3" fill="#1a6ab8" /><polygon points="167.8,260.0 170.3,260.0 169.1,261.2 167.8,261.2" fill="#1a60b0" /><polygon points="183.2,273.1 184.9,273.1 185.4,274.3 183.2,274.3" fill="#1a4a90" /><polygon points="169.7,271.2 171.3,271.2 171.4,272.4 169.7,272.4" fill="#1a60b0" /><polygon points="206.1,282.1 207.2,282.1 207.2,283.3 206.1,283.3" fill="#203a90" /><polygon points="213.4,285.6 214.6,285.6 215.2,286.8 213.4,286.8" fill="#1a80c8" /><polygon points="176.9,265.1 178.4,265.1 178.3,266.3 176.9,266.3" fill="#1a80c8" /><polygon points="155.7,268.3 157.7,268.3 157.5,269.5 155.7,269.5" fill="#14406e" /><polygon points="202.7,275.4 204.4,275.4 204.3,276.6 202.7,276.6" fill="#203a90" /><polygon points="154.1,257.6 155.5,257.6 156.1,258.8 154.1,258.8" fill="#203a90" /><polygon points="154.7,262.3 157.3,262.3 156.6,263.5 154.7,263.5" fill="#1a80c8" /><polygon points="211.2,280.2 213.6,280.2 213.1,281.4 211.2,281.4" fill="#203a90" /><polygon points="194.4,280.3 196.3,280.3 195.6,281.5 194.4,281.5" fill="#1a6ab8" /><polygon points="167.6,265.1 169.5,265.1 169.5,266.3 167.6,266.3" fill="#14406e" /><polygon points="199.4,289.1 200.5,289.1 201.0,290.3 199.4,290.3" fill="#1a6ab8" /><polygon points="181.2,278.8 183.7,278.8 182.6,280.0 181.2,280.0" fill="#1a6ab8" /><polygon points="177.6,263.4 179.3,263.4 178.7,264.6 177.6,264.6" fill="#1a6ab8" /><polygon points="205.3,290.6 207.0,290.6 207.2,291.8 205.3,291.8" fill="#1a6ab8" /><polygon points="194.8,270.8 196.6,270.8 196.8,272.0 194.8,272.0" fill="#1a4a90" /><polygon points="163.1,269.9 164.9,269.9 165.2,271.1 163.1,271.1" fill="#203a90" /><polygon points="162.1,270.7 164.6,270.7 164.4,271.9 162.1,271.9" fill="#1a6ab8" /><polygon points="169.6,257.6 170.6,257.6 171.3,258.8 169.6,258.8" fill="#203a90" /><polygon points="165.4,273.1 166.8,273.1 167.2,274.3 165.4,274.3" fill="#1a4a90" /><polygon points="178.9,278.7 181.1,278.7 180.3,279.9 178.9,279.9" fill="#1a6ab8" /><polygon points="204.7,284.2 206.6,284.2 206.5,285.4 204.7,285.4" fill="#14406e" /><polygon points="201.6,286.8 202.6,286.8 204.0,288.0 201.6,288.0" fill="#1a4a90" /><polygon points="193.2,282.2 194.3,282.2 194.5,283.4 193.2,283.4" fill="#1a80c8" /><polygon points="196.7,285.8 199.1,285.8 198.1,287.0 196.7,287.0" fill="#1a60b0" /><polygon points="172.4,266.6 174.6,266.6 173.6,267.8 172.4,267.8" fill="#1a60b0" /><polygon points="155.2,267.9 157.4,267.9 156.8,269.1 155.2,269.1" fill="#1a60b0" /><polygon points="173.8,267.2 175.5,267.2 175.1,268.4 173.8,268.4" fill="#1a6ab8" /><polygon points="160.8,262.0 163.2,262.0 161.9,263.2 160.8,263.2" fill="#203a90" /><polygon points="200.9,281.3 202.4,281.3 203.0,282.5 200.9,282.5" fill="#14406e" /><polygon points="211.5,284.0 212.7,284.0 214.1,285.2 211.5,285.2" fill="#1a80c8" /><polygon points="194.7,271.6 195.9,271.6 196.5,272.8 194.7,272.8" fill="#1a80c8" /><polygon points="156.7,261.0 158.9,261.0 158.9,262.2 156.7,262.2" fill="#14406e" /><polygon points="193.0,275.8 194.3,275.8 195.5,277.0 193.0,277.0" fill="#14406e" /><polygon points="193.0,276.6 194.7,276.6 194.5,277.8 193.0,277.8" fill="#1a4a90" /><polygon points="181.4,261.7 182.7,261.7 182.5,262.9 181.4,262.9" fill="#14406e" /><polygon points="164.2,272.4 166.2,272.4 165.9,273.6 164.2,273.6" fill="#1a60b0" /><polygon points="169.5,264.9 171.9,264.9 170.5,266.1 169.5,266.1" fill="#1a6ab8" /><polygon points="169.8,278.6 171.6,278.6 172.2,279.8 169.8,279.8" fill="#203a90" /><polygon points="180.8,283.6 181.9,283.6 182.6,284.8 180.8,284.8" fill="#1a60b0" /><polygon points="162.4,274.0 164.5,274.0 164.3,275.2 162.4,275.2" fill="#14406e" /><polygon points="188.2,277.5 189.8,277.5 190.7,278.7 188.2,278.7" fill="#1a4a90" /><polygon points="185.7,273.0 187.0,273.0 187.1,274.2 185.7,274.2" fill="#1a80c8" /><polygon points="208.3,289.8 209.9,289.8 210.1,291.0 208.3,291.0" fill="#1a6ab8" /><polygon points="172.2,269.9 174.0,269.9 174.3,271.1 172.2,271.1" fill="#14406e" /><polygon points="183.0,274.5 185.2,274.5 184.0,275.7 183.0,275.7" fill="#14406e" /><polygon points="203.4,288.7 205.9,288.7 204.6,289.9 203.4,289.9" fill="#1a80c8" /><polygon points="212.5,287.3 213.7,287.3 214.7,288.5 212.5,288.5" fill="#1a6ab8" /><polygon points="191.3,270.3 193.1,270.3 192.4,271.5 191.3,271.5" fill="#1a80c8" /><polygon points="203.0,289.0 205.4,289.0 204.7,290.2 203.0,290.2" fill="#1a4a90" /><polygon points="183.8,278.8 185.7,278.8 185.5,280.0 183.8,280.0" fill="#14406e" /><polygon points="181.4,278.4 183.1,278.4 183.1,279.6 181.4,279.6" fill="#1a60b0" /><polygon points="176.0,271.3 178.0,271.3 177.4,272.5 176.0,272.5" fill="#1a60b0" /><polygon points="154.4,273.7 156.2,273.7 156.4,274.9 154.4,274.9" fill="#1a4a90" /><polygon points="159.8,255.4 161.6,255.4 160.9,256.6 159.8,256.6" fill="#1a60b0" /><polygon points="178.0,262.0 179.0,262.0 180.1,263.2 178.0,263.2" fill="#1a4a90" /><polygon points="178.0,265.5 179.0,265.5 180.5,266.7 178.0,266.7" fill="#1a4a90" /><polygon points="168.0,265.1 169.3,265.1 169.5,266.3 168.0,266.3" fill="#1a60b0" /><polygon points="170.1,282.7 171.8,282.7 172.5,283.9 170.1,283.9" fill="#1a80c8" /><polygon points="183.3,272.7 184.3,272.7 184.8,273.9 183.3,273.9" fill="#1a80c8" /><polygon points="184.2,269.2 185.5,269.2 186.0,270.4 184.2,270.4" fill="#1a80c8" /><polygon points="182.6,283.4 185.0,283.4 185.1,284.6 182.6,284.6" fill="#1a60b0" /><polygon points="176.7,281.1 178.7,281.1 178.3,282.3 176.7,282.3" fill="#1a80c8" /><polygon points="164.4,266.2 166.2,266.2 166.3,267.4 164.4,267.4" fill="#1a6ab8" /><polygon points="198.5,284.8 200.4,284.8 201.0,286.0 198.5,286.0" fill="#1a80c8" /><polygon points="180.6,278.9 182.1,278.9 182.9,280.1 180.6,280.1" fill="#1a6ab8" /><polygon points="197.7,274.7 199.8,274.7 199.3,275.9 197.7,275.9" fill="#203a90" /><polygon points="155.6,255.6 157.9,255.6 158.0,256.8 155.6,256.8" fill="#1a60b0" /><polygon points="200.0,277.8 201.2,277.8 201.4,279.0 200.0,279.0" fill="#14406e" /><polygon points="156.5,274.9 157.6,274.9 158.2,276.1 156.5,276.1" fill="#14406e" /><polygon points="153.1,256.6 155.4,256.6 155.6,257.8 153.1,257.8" fill="#1a80c8" /><polygon points="166.6,272.7 168.3,272.7 168.9,273.9 166.6,273.9" fill="#1a6ab8" /></g><clipPath id="c9"><polygon points="287.0,209.7 280.0,213.0 268.0,226.0 259.8,237.0 253.0,249.0 247.0,256.0 246.0,266.0 244.5,276.0 236.0,293.0 268.7,280.0 268.7,232.0 293.7,216.5 292.1,206.5"/></clipPath><g clip-path="url(#c9)"><polygon points="287.0,209.7 280.0,213.0 268.0,226.0 259.8,237.0 253.0,249.0 247.0,256.0 246.0,266.0 244.5,276.0 236.0,293.0 268.7,280.0 268.7,232.0 293.7,216.5 292.1,206.5" fill="#06070c" /><polyline points="254.7,251.6 268.4,243.0" fill="none" stroke="#6a6a14" stroke-width="0.9" /><polyline points="257.0,248.0 268.4,240.5" fill="none" stroke="#4a4a10" stroke-width="0.7" /><polyline points="263.3,233.7 270.0,229.0" fill="none" stroke="#7a6a10" stroke-width="0.9" /><polyline points="259.0,241.0 266.0,236.0" fill="none" stroke="#5a5a12" stroke-width="0.7" /><polyline points="245.5,265.0 256.0,255.0" fill="none" stroke="#52b452" stroke-width="1.1" /><polyline points="245.5,262.3 256.0,252.3" fill="none" stroke="#3c8a3c" stroke-width="1.1" /><polyline points="245.5,259.6 256.0,249.6" fill="none" stroke="#52b452" stroke-width="1.1" /><polyline points="245.5,256.9 256.0,246.9" fill="none" stroke="#3c8a3c" stroke-width="1.1" /><polyline points="245.5,254.2 256.0,244.2" fill="none" stroke="#52b452" stroke-width="1.1" /><polyline points="254.0,268.0 269.0,258.0" fill="none" stroke="#5a8a20" stroke-width="0.9" /><polyline points="254.0,265.2 269.0,255.2" fill="none" stroke="#3e6a18" stroke-width="0.9" /><polyline points="254.0,262.4 269.0,252.4" fill="none" stroke="#6a8a28" stroke-width="0.9" /><polyline points="254.0,259.6 269.0,249.6" fill="none" stroke="#5a8a20" stroke-width="0.9" /><polyline points="254.0,256.8 269.0,246.8" fill="none" stroke="#3e6a18" stroke-width="0.9" /></g><clipPath id="c10"><polygon points="102.2,269.5 104.0,267.3 107.2,266.8 107.4,259.7 153.3,245.8 155.0,244.0 180.0,236.3 205.0,228.8 230.0,222.5 255.0,216.5 280.0,211.3 286.7,209.7 292.1,206.5 310.0,199.4 316.7,196.6 332.0,196.1 354.0,190.4 370.0,187.7 385.0,184.0 403.4,180.0 404.0,186.5 406.7,187.8 407.5,191.0 414.0,192.0 414.5,195.0 422.7,195.8 423.0,198.5 435.4,199.4 435.5,200.5 440.7,201.4 441.0,203.5 443.4,204.7 443.5,207.4 460.0,202.0 466.8,199.5 491.0,186.0 513.8,170.6 515.6,171.4 515.6,217.0 505.0,221.5 503.8,230.0 501.2,241.2 496.2,250.0 490.0,257.5 480.0,261.2 455.0,266.2 430.0,272.5 410.0,277.5 387.5,276.2 382.5,273.8 380.0,275.0 365.0,280.0 340.0,285.0 315.0,291.2 300.0,298.6 285.5,303.2 260.0,309.5 234.5,315.5 233.6,309.5 228.6,306.0 224.0,304.0 219.5,302.3 215.0,300.5 211.4,298.6 206.8,295.9 195.0,298.6 171.4,305.0 145.9,311.4 145.5,300.5 138.2,300.0 137.3,296.1 132.9,294.0 128.0,293.5 124.2,290.3 120.5,289.6 118.3,291.0 113.2,290.5 112.5,286.6 111.0,283.7 109.6,280.8 106.0,279.4 103.5,277.5 102.0,276.0"/></clipPath><g clip-path="url(#c10)"><clipPath id="c11"><polygon points="234.5,316.0 234.5,293.0 236.0,293.0 260.8,282.8 285.5,276.4 310.0,273.8 335.0,272.6 360.0,270.5 385.0,268.5 400.0,267.3 400.0,330.0"/></clipPath><g clip-path="url(#c11)"><polygon points="234.5,316.0 234.5,293.0 236.0,293.0 260.8,282.8 285.5,276.4 310.0,273.8 335.0,272.6 360.0,270.5 385.0,268.5 400.0,267.3 400.0,330.0" fill="#06080e" /><polygon points="236.2,293.4 260.4,283.8 260.4,291.8 236.2,300.9" fill="#22a6e0" /><polyline points="260.4,282.8 260.4,292.8" fill="none" stroke="#06070c" stroke-width="1" /><polygon points="260.9,281.2 285.5,277.1 285.5,283.8 260.9,288.2" fill="#22a6e0" /><polyline points="285.5,276.1 285.5,284.8" fill="none" stroke="#06070c" stroke-width="1" /><polygon points="285.9,276.3 310.0,273.6 310.0,279.8 285.9,282.9" fill="#22a6e0" /><polyline points="310.0,272.6 310.0,280.8" fill="none" stroke="#06070c" stroke-width="1" /><polygon points="310.2,273.5 334.4,272.4 334.4,277.8 310.2,279.3" fill="#22a6e0" /><polyline points="334.4,271.4 334.4,278.8" fill="none" stroke="#06070c" stroke-width="1" /><polyline points="236.0,303.5 260.8,293.3 285.5,286.9 310.0,284.3 335.0,283.1 360.0,281.0 385.0,279.0 400.0,277.8" fill="none" stroke="#1a3c94" stroke-width="1.3" /><polyline points="236.0,306.8 260.8,296.6 285.5,290.2 310.0,287.6 335.0,286.4 360.0,284.3 385.0,282.3 400.0,281.1" fill="none" stroke="#102a66" stroke-width="1.3" /><polyline points="236.0,310.1 260.8,299.9 285.5,293.5 310.0,290.9 335.0,289.7 360.0,287.6 385.0,285.6 400.0,284.4" fill="none" stroke="#1c46a4" stroke-width="1.3" /><polyline points="236.0,313.4 260.8,303.2 285.5,296.8 310.0,294.2 335.0,293.0 360.0,290.9 385.0,288.9 400.0,287.7" fill="none" stroke="#122e70" stroke-width="1.3" /><polyline points="236.0,316.7 260.8,306.5 285.5,300.1 310.0,297.5 335.0,296.3 360.0,294.2 385.0,292.2 400.0,291.0" fill="none" stroke="#1e4cb4" stroke-width="1.3" /><polyline points="236.0,320.0 260.8,309.8 285.5,303.4 310.0,300.8 335.0,299.6 360.0,297.5 385.0,295.5 400.0,294.3" fill="none" stroke="#2456c8" stroke-width="1.3" /><polyline points="260.8,289.8 260.8,312.8" fill="none" stroke="#06070c" stroke-width="0.9" /><polyline points="285.5,283.4 285.5,306.4" fill="none" stroke="#06070c" stroke-width="0.9" /><polyline points="310.0,280.8 310.0,303.8" fill="none" stroke="#06070c" stroke-width="0.9" /><polyline points="334.4,279.6 334.4,302.6" fill="none" stroke="#06070c" stroke-width="0.9" /><polyline points="359.0,277.6 359.0,300.6" fill="none" stroke="#06070c" stroke-width="0.9" /></g></g><clipPath id="c12"><polygon points="102.2,269.5 104.0,267.3 107.2,266.8 107.4,259.7 153.3,245.8 155.0,244.0 180.0,236.3 205.0,228.8 230.0,222.5 255.0,216.5 280.0,211.3 286.7,209.7 292.1,206.5 310.0,199.4 316.7,196.6 332.0,196.1 354.0,190.4 370.0,187.7 385.0,184.0 403.4,180.0 404.0,186.5 406.7,187.8 407.5,191.0 414.0,192.0 414.5,195.0 422.7,195.8 423.0,198.5 435.4,199.4 435.5,200.5 440.7,201.4 441.0,203.5 443.4,204.7 443.5,207.4 460.0,202.0 466.8,199.5 491.0,186.0 513.8,170.6 515.6,171.4 515.6,217.0 505.0,221.5 503.8,230.0 501.2,241.2 496.2,250.0 490.0,257.5 480.0,261.2 455.0,266.2 430.0,272.5 410.0,277.5 387.5,276.2 382.5,273.8 380.0,275.0 365.0,280.0 340.0,285.0 315.0,291.2 300.0,298.6 285.5,303.2 260.0,309.5 234.5,315.5 233.6,309.5 228.6,306.0 224.0,304.0 219.5,302.3 215.0,300.5 211.4,298.6 206.8,295.9 195.0,298.6 171.4,305.0 145.9,311.4 145.5,300.5 138.2,300.0 137.3,296.1 132.9,294.0 128.0,293.5 124.2,290.3 120.5,289.6 118.3,291.0 113.2,290.5 112.5,286.6 111.0,283.7 109.6,280.8 106.0,279.4 103.5,277.5 102.0,276.0"/></clipPath><g clip-path="url(#c12)"><polyline points="246.4,280.5 261.0,275.2 290.0,269.6 315.0,267.6 340.0,266.5" fill="none" stroke="#117a7a" stroke-width="1.4" /><polyline points="262.0,271.5 290.0,266.2 315.0,264.6 338.0,263.5" fill="none" stroke="#0e6262" stroke-width="1.0" /></g><clipPath id="c13"><polygon points="102.2,269.5 104.0,267.3 107.2,266.8 107.4,259.7 153.3,245.8 155.0,244.0 180.0,236.3 205.0,228.8 230.0,222.5 255.0,216.5 280.0,211.3 286.7,209.7 292.1,206.5 310.0,199.4 316.7,196.6 332.0,196.1 354.0,190.4 370.0,187.7 385.0,184.0 403.4,180.0 404.0,186.5 406.7,187.8 407.5,191.0 414.0,192.0 414.5,195.0 422.7,195.8 423.0,198.5 435.4,199.4 435.5,200.5 440.7,201.4 441.0,203.5 443.4,204.7 443.5,207.4 460.0,202.0 466.8,199.5 491.0,186.0 513.8,170.6 515.6,171.4 515.6,217.0 505.0,221.5 503.8,230.0 501.2,241.2 496.2,250.0 490.0,257.5 480.0,261.2 455.0,266.2 430.0,272.5 410.0,277.5 387.5,276.2 382.5,273.8 380.0,275.0 365.0,280.0 340.0,285.0 315.0,291.2 300.0,298.6 285.5,303.2 260.0,309.5 234.5,315.5 233.6,309.5 228.6,306.0 224.0,304.0 219.5,302.3 215.0,300.5 211.4,298.6 206.8,295.9 195.0,298.6 171.4,305.0 145.9,311.4 145.5,300.5 138.2,300.0 137.3,296.1 132.9,294.0 128.0,293.5 124.2,290.3 120.5,289.6 118.3,291.0 113.2,290.5 112.5,286.6 111.0,283.7 109.6,280.8 106.0,279.4 103.5,277.5 102.0,276.0"/></clipPath><g clip-path="url(#c13)"><polygon points="320.0,201.9 403.4,180.2 403.4,240.0 320.0,240.0" fill="#06070c" /><polyline points="320.0,202.9 403.4,181.2" fill="none" stroke="#22aae2" stroke-width="2.0" /><polygon points="320.0,210.3 406.7,187.8 406.7,240.0 320.0,240.0" fill="#06070c" /><polyline points="320.0,211.3 406.7,188.8" fill="none" stroke="#1e8edc" stroke-width="1.7" /><polygon points="320.0,216.4 414.0,192.0 414.0,240.0 320.0,240.0" fill="#06070c" /><polyline points="320.0,217.4 414.0,193.0" fill="none" stroke="#1a78c8" stroke-width="1.7" /><polygon points="320.0,222.5 422.7,195.8 422.7,240.0 320.0,240.0" fill="#06070c" /><polyline points="320.0,223.5 422.7,196.8" fill="none" stroke="#2296e0" stroke-width="1.7" /><polygon points="320.0,229.4 435.4,199.4 435.4,240.0 320.0,240.0" fill="#06070c" /><polyline points="320.0,230.4 435.4,200.4" fill="none" stroke="#1a80d0" stroke-width="1.7" /><polygon points="320.0,232.8 440.7,201.4 440.7,240.0 320.0,240.0" fill="#06070c" /><polyline points="320.0,233.8 440.7,202.4" fill="none" stroke="#1e8ee0" stroke-width="1.7" /><polygon points="320.0,236.8 443.4,204.7 443.4,240.0 320.0,240.0" fill="#06070c" /><polyline points="320.0,237.8 443.4,205.7" fill="none" stroke="#1a70c0" stroke-width="1.7" /><polyline points="332.0,197.0 354.0,191.4" fill="none" stroke="#2838b8" stroke-width="1.8" /></g><clipPath id="c14"><polygon points="102.2,269.5 104.0,267.3 107.2,266.8 107.4,259.7 153.3,245.8 155.0,244.0 180.0,236.3 205.0,228.8 230.0,222.5 255.0,216.5 280.0,211.3 286.7,209.7 292.1,206.5 310.0,199.4 316.7,196.6 332.0,196.1 354.0,190.4 370.0,187.7 385.0,184.0 403.4,180.0 404.0,186.5 406.7,187.8 407.5,191.0 414.0,192.0 414.5,195.0 422.7,195.8 423.0,198.5 435.4,199.4 435.5,200.5 440.7,201.4 441.0,203.5 443.4,204.7 443.5,207.4 460.0,202.0 466.8,199.5 491.0,186.0 513.8,170.6 515.6,171.4 515.6,217.0 505.0,221.5 503.8,230.0 501.2,241.2 496.2,250.0 490.0,257.5 480.0,261.2 455.0,266.2 430.0,272.5 410.0,277.5 387.5,276.2 382.5,273.8 380.0,275.0 365.0,280.0 340.0,285.0 315.0,291.2 300.0,298.6 285.5,303.2 260.0,309.5 234.5,315.5 233.6,309.5 228.6,306.0 224.0,304.0 219.5,302.3 215.0,300.5 211.4,298.6 206.8,295.9 195.0,298.6 171.4,305.0 145.9,311.4 145.5,300.5 138.2,300.0 137.3,296.1 132.9,294.0 128.0,293.5 124.2,290.3 120.5,289.6 118.3,291.0 113.2,290.5 112.5,286.6 111.0,283.7 109.6,280.8 106.0,279.4 103.5,277.5 102.0,276.0"/></clipPath><g clip-path="url(#c14)"><polyline points="330.0,249.0 384.6,244.0 410.8,247.0 440.0,243.0 470.0,234.0 500.0,220.0" fill="none" stroke="#13756e" stroke-width="1.0" /><polyline points="338.0,251.0 384.6,246.6 410.8,249.6 440.0,245.6 470.0,236.6 500.0,222.6" fill="none" stroke="#0f6a64" stroke-width="1.0" /><polyline points="346.0,253.0 384.6,249.2 410.8,252.2 440.0,248.2 470.0,239.2 500.0,225.2" fill="none" stroke="#13756e" stroke-width="1.0" /><polyline points="354.0,255.0 384.6,251.8 410.8,254.8 440.0,250.8 470.0,241.8 500.0,227.8" fill="none" stroke="#0f6a64" stroke-width="1.0" /><polyline points="362.0,257.0 384.6,254.4 410.8,257.4 440.0,253.4 470.0,244.4 500.0,230.4" fill="none" stroke="#13756e" stroke-width="1.0" /><polyline points="355.0,246.7 380.0,244.9 405.0,244.2 430.0,242.2 455.0,236.8 480.0,229.2 500.0,221.9" fill="none" stroke="#0b4e4a" stroke-width="0.9" /><polyline points="355.0,247.2 380.0,247.1 405.0,247.5 430.0,245.7 455.0,239.7 480.0,231.0 500.0,222.5" fill="none" stroke="#0e5e58" stroke-width="0.9" /><polyline points="355.0,247.7 380.0,249.3 405.0,250.8 430.0,249.2 455.0,242.6 480.0,232.8 500.0,223.1" fill="none" stroke="#0a4442" stroke-width="0.9" /><polyline points="355.0,248.2 380.0,251.7 405.0,254.4 430.0,253.0 455.0,245.7 480.0,234.8 500.0,223.8" fill="none" stroke="#106a62" stroke-width="0.9" /><polyline points="355.0,248.7 380.0,254.2 405.0,258.0 430.0,256.8 455.0,248.8 480.0,236.7 500.0,224.4" fill="none" stroke="#0b4e4a" stroke-width="0.9" /><polyline points="355.0,249.2 380.0,256.4 405.0,261.3 430.0,260.3 455.0,251.7 480.0,238.5 500.0,225.0" fill="none" stroke="#0d5a54" stroke-width="0.9" /><polyline points="336.0,247.5 378.0,263.8 404.0,270.5" fill="none" stroke="#0e6660" stroke-width="1.0" /><polyline points="336.0,251.0 376.0,266.5" fill="none" stroke="#0c5a58" stroke-width="0.9" /><polyline points="348.0,246.5 356.0,248.5" fill="none" stroke="#7a7a20" stroke-width="1.1" /><polyline points="353.0,245.8 380.7,260.4" fill="none" stroke="#1a9a80" stroke-width="1.9" /><polyline points="380.7,260.4 404.0,266.9 429.8,266.2 455.0,256.5 480.0,241.5 502.5,224.0" fill="none" stroke="#1e8ee0" stroke-width="1.9" /><polyline points="452.0,263.0 478.0,252.5 502.0,236.0" fill="none" stroke="#14448a" stroke-width="1.0" /><polyline points="470.0,261.0 498.0,246.0" fill="none" stroke="#10306a" stroke-width="0.9" /></g><polygon points="292.1,206.5 310.0,199.4 316.7,196.6 332.0,197.0 342.6,199.5 367.5,206.0 392.3,212.0 416.9,215.8 441.8,210.5 466.6,200.0 491.0,186.0 513.8,170.6 515.6,171.4 515.6,182.6 491.0,197.6 466.6,213.8 441.8,222.4 416.9,225.0 392.3,222.0 367.5,214.5 342.6,207.0 318.0,207.5 293.7,216.5 268.7,232.0" fill="#06070c" /><polyline points="292.1,206.5 310.0,199.4 316.7,196.6 332.0,197.0 342.6,199.5 367.5,206.0 392.3,212.0 416.9,215.8 441.8,210.5 466.6,200.0 491.0,186.0 513.8,170.6" fill="none" stroke="#5a5614" stroke-width="0.9" /><polyline points="316.7,199.2 332.0,199.6 342.6,202.1 367.5,208.6 392.3,214.6 416.9,218.4 441.8,213.1 466.6,202.6 491.0,188.6 513.8,173.2" fill="none" stroke="#3e3e10" stroke-width="0.7" /><polyline points="332.0,202.0 342.6,204.5 367.5,211.0 392.3,217.0 416.9,220.8 441.8,215.5 466.6,205.0 491.0,191.0 513.8,175.6" fill="none" stroke="#2e3a10" stroke-width="0.6" /><polygon points="268.7,232.0 293.7,216.5 293.7,259.2 268.7,270.5" fill="#5cc878" /><polygon points="293.7,216.5 318.0,207.5 318.0,252.3 293.7,259.2" fill="#6ecb66" /><polygon points="318.0,207.5 342.6,207.0 342.6,247.7 318.0,252.3" fill="#6fcb66" /><polygon points="342.6,207.0 367.5,214.5 367.5,243.2 342.6,247.7" fill="#6ccb6a" /><polygon points="367.5,214.5 392.3,222.0 392.3,240.0 367.5,243.2" fill="#5cc87c" /><polygon points="392.3,222.0 416.9,225.0 416.9,238.5 392.3,240.0" fill="#40c48c" /><polygon points="416.9,225.0 441.8,222.4 441.8,235.2 416.9,238.5" fill="#3cc496" /><polygon points="441.8,222.4 466.6,213.8 466.6,229.6 441.8,235.2" fill="#35c29c" /><polygon points="466.6,213.8 491.0,197.6 491.0,223.8 466.6,229.6" fill="#2ec2a2" /><polygon points="491.0,197.6 515.0,182.6 515.0,216.6 491.0,223.8" fill="#2ec2a2" /><polygon points="268.7,232.0 293.7,216.5 293.7,219.1 268.7,234.6" fill="#78d478" /><polygon points="293.7,216.5 318.0,207.5 318.0,210.1 293.7,219.1" fill="#78d478" /><polygon points="318.0,207.5 342.6,207.0 342.6,209.6 318.0,210.1" fill="#78d478" /><polygon points="342.6,207.0 367.5,214.5 367.5,217.1 342.6,209.6" fill="#78d478" /><polygon points="367.5,214.5 392.3,222.0 392.3,224.6 367.5,217.1" fill="#78d478" /><polygon points="392.3,222.0 416.9,225.0 416.9,227.6 392.3,224.6" fill="#48cc9c" /><polygon points="416.9,225.0 441.8,222.4 441.8,225.0 416.9,227.6" fill="#48cc9c" /><polygon points="441.8,222.4 466.6,213.8 466.6,216.4 441.8,225.0" fill="#48cc9c" /><polygon points="466.6,213.8 491.0,197.6 491.0,200.2 466.6,216.4" fill="#48cc9c" /><polygon points="491.0,197.6 515.0,182.6 515.0,185.2 491.0,200.2" fill="#48cc9c" /><polyline points="268.7,234.9 293.7,219.4 318.0,210.4 342.6,209.9 367.5,217.4 392.3,224.9 416.9,227.9 441.8,225.3 466.6,216.7 491.0,200.5 515.0,185.5" fill="none" stroke="#1c3a20" stroke-width="0.8" /><polyline points="293.7,216.5 293.7,259.2" fill="none" stroke="#14301a" stroke-width="1.1" /><polyline points="318.0,207.5 318.0,252.3" fill="none" stroke="#14301a" stroke-width="1.1" /><polyline points="342.6,207.0 342.6,247.7" fill="none" stroke="#14301a" stroke-width="1.1" /><polyline points="367.5,214.5 367.5,243.2" fill="none" stroke="#14301a" stroke-width="1.1" /><polyline points="392.3,222.0 392.3,240.0" fill="none" stroke="#14301a" stroke-width="1.1" /><polyline points="416.9,225.0 416.9,238.5" fill="none" stroke="#14301a" stroke-width="1.1" /><polyline points="441.8,222.4 441.8,235.2" fill="none" stroke="#14301a" stroke-width="1.1" /><polyline points="466.6,213.8 466.6,229.6" fill="none" stroke="#14301a" stroke-width="1.1" /><polyline points="491.0,197.6 491.0,223.8" fill="none" stroke="#14301a" stroke-width="1.1" /><polyline points="268.7,232.0 293.7,216.5 318.0,207.5 342.6,207.0 367.5,214.5 392.3,222.0 416.9,225.0 441.8,222.4 466.6,213.8 491.0,197.6 515.0,182.6" fill="none" stroke="#0c1a0c" stroke-width="1.0" /><polyline points="268.7,270.5 293.7,259.2 318.0,252.3 342.6,247.7 367.5,243.2 392.3,240.0 416.9,238.5 441.8,235.2 466.6,229.6 491.0,223.8 515.0,216.6" fill="none" stroke="#0a140a" stroke-width="0.9" /></g><g><line x1="268.6" y1="382.5" x2="528.1" y2="312" class="a"/><line x1="268.6" y1="382.5" x2="69.4" y2="290.5" class="a"/><line x1="69.4" y1="290.5" x2="69.4" y2="90.2" class="a"/><line x1="268.6" y1="382.5" x2="274.59" y2="385.27" class="a"/><line x1="333.48" y1="364.88" x2="339.47" y2="367.64" class="a"/><line x1="398.35" y1="347.25" x2="404.34" y2="350.02" class="a"/><line x1="463.23" y1="329.62" x2="469.22" y2="332.39" class="a"/><line x1="528.1" y1="312" x2="534.09" y2="314.77" class="a"/><line x1="268.6" y1="382.5" x2="262.23" y2="384.23" class="a"/><line x1="202.2" y1="351.83" x2="195.83" y2="353.56" class="a"/><line x1="135.8" y1="321.17" x2="129.43" y2="322.9" class="a"/><line x1="69.4" y1="290.5" x2="63.03" y2="292.23" class="a"/><line x1="69.4" y1="290.5" x2="63.41" y2="287.73" class="a"/><line x1="69.4" y1="223.73" x2="63.41" y2="220.97" class="a"/><line x1="69.4" y1="156.97" x2="63.41" y2="154.2" class="a"/><line x1="69.4" y1="90.2" x2="63.41" y2="87.43" class="a"/></g>
<text x="299" y="14" class="title" text-anchor="middle">The output of the 3DFDPG model</text>
<text x="56.8" y="91.5" class="tk" text-anchor="end">1100</text>
<text x="57.2" y="157.7" class="tk" text-anchor="end">1050</text>
<text x="57.2" y="224.2" class="tk" text-anchor="end">1000</text>
<text x="56.8" y="292" class="tk" text-anchor="end">950</text>
<text x="56" y="308.1" class="tk" text-anchor="end">600</text>
<text x="122.4" y="340" class="tk" text-anchor="end">400</text>
<text x="189.7" y="370" class="tk" text-anchor="end">200</text>
<text x="256" y="402" class="tk" text-anchor="end">0</text>
<text x="280" y="402.8" class="tk">0</text>
<text x="344.5" y="385" class="tk">2</text>
<text x="409.5" y="367.2" class="tk">4</text>
<text x="474.5" y="349.1" class="tk">6</text>
<text x="539.5" y="332" class="tk">8</text>
<text x="166" y="400" class="lb">t</text>
<text x="365.4" y="406.2" class="lb">z</text>
<text transform="translate(16.25,191) rotate(-90)" class="lb" text-anchor="middle">y(z,t)</text>

</svg>
</body></html>
